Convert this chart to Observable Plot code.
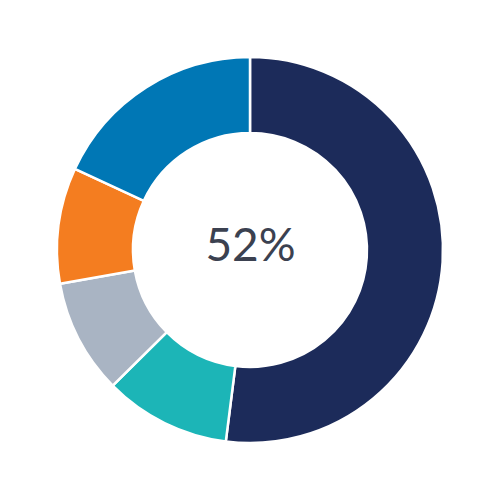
<!DOCTYPE html>
<html>
<head>
<meta charset="utf-8">
<script src="https://cdn.jsdelivr.net/npm/d3@7"></script>
<script src="https://cdn.jsdelivr.net/npm/@observablehq/plot@0.6"></script>
<style>
  html, body { margin: 0; padding: 0; background: #ffffff; }
  #chart { width: 500px; height: 500px; }
</style>
</head>
<body>
<div id="chart"></div>
<script>
// Data (clockwise from 12 o'clock)
const categories = ["A", "B", "C", "D", "E"];
const values = [52, 10.6, 9.6, 9.7, 18.1];
const colors = ["#1c2b5a", "#1cb5b7", "#a9b4c3", "#f47d20", "#0077b5"];
const centerLabel = ["52%"];

const data = categories.map((c, i) => ({category: c, value: values[i]}));

function donut(index, scales, values_, dimensions) {
  const x = scales.x, y = scales.y;
  const cx = x(0), cy = y(0);
  const rOuter = Math.abs(x(193) - x(0));
  const rInner = Math.abs(x(117) - x(0));
  const color = scales.color || d3.scaleOrdinal(categories, colors);
  const arcs = d3.pie().sort(null).value(d => d.value)(data);
  const arc = d3.arc().innerRadius(rInner).outerRadius(rOuter);
  const g = d3.create("svg:g").attr("transform", `translate(${cx},${cy})`);
  g.selectAll("path")
    .data(arcs)
    .join("path")
    .attr("d", arc)
    .attr("fill", d => color(d.data.category))
    .attr("stroke", "#ffffff")
    .attr("stroke-width", 2.5)
    .attr("stroke-linejoin", "miter");
  return g.node();
}

const plot = Plot.plot({
  width: 500,
  height: 500,
  margin: 0,
  x: {domain: [-250, 250], axis: null},
  y: {domain: [-250, 250], axis: null},
  color: {domain: categories, range: colors},
  style: {background: "#ffffff"},
  marks: [
    donut,
    Plot.text(centerLabel, {
      x: 0, y: 0, text: d => d,
      fontSize: 46, fontWeight: 400, fill: "#3b4150",
      fontFamily: "Lato", dy: -4
    })
  ]
});
document.getElementById("chart").appendChild(plot);
</script>
</body>
</html>
